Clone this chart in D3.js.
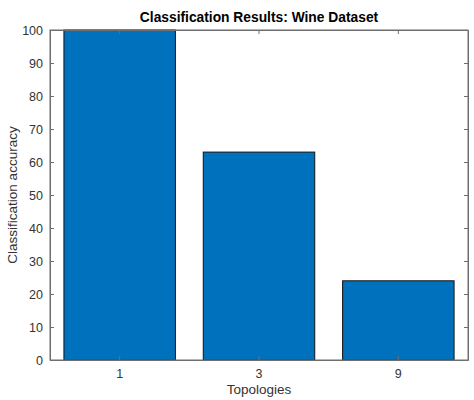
<!DOCTYPE html>
<html><head><meta charset="utf-8">
<script src="https://cdn.jsdelivr.net/npm/d3@7"></script>
<style>body{margin:0;background:#fff}svg{display:block}text{font-family:"Liberation Sans",Arial,sans-serif}</style>
</head><body>
<svg id="c" width="474" height="400"></svg>
<script>
const categories = ["1", "3", "9"];
const accuracy = [100, 63, 24];
const yTicks = [0, 10, 20, 30, 40, 50, 60, 70, 80, 90, 100];

const svg = d3.select("#c");
const m = {l: 50, r: 6, t: 30, b: 40};
const W = 474, H = 400;
const x = d3.scaleBand().domain(categories).range([m.l, W - m.r]).paddingInner(0.2).paddingOuter(0.1);
const y = d3.scaleLinear().domain([0, 100]).range([H - m.b, m.t]);
const axisCol = "#6e6e6e", textCol = "#333";

// bars
svg.append("g").selectAll("rect").data(categories).join("rect")
  .attr("x", d => x(d)).attr("width", x.bandwidth())
  .attr("y", (d, i) => y(accuracy[i])).attr("height", (d, i) => y(0) - y(accuracy[i]))
  .attr("fill", "#0072BD").attr("stroke", "#111").attr("stroke-width", 1);

// axes
const tickLen = 4;
const yAxis = svg.append("g").attr("transform", `translate(${m.l},0)`)
  .call(d3.axisLeft(y).tickValues(yTicks).tickSizeInner(-tickLen).tickSizeOuter(0).tickPadding(7));
const yAxisR = svg.append("g").attr("transform", `translate(${W - m.r},0)`)
  .call(d3.axisRight(y).tickValues(yTicks).tickSizeInner(-tickLen).tickSizeOuter(0).tickFormat(""));
const xAxis = svg.append("g").attr("transform", `translate(0,${H - m.b})`)
  .call(d3.axisBottom(x).tickSizeInner(-tickLen).tickSizeOuter(0).tickPadding(9));
const xAxisT = svg.append("g").attr("transform", `translate(0,${m.t})`)
  .call(d3.axisTop(x).tickSizeInner(-tickLen).tickSizeOuter(0).tickFormat(""));
[yAxis, yAxisR, xAxis, xAxisT].forEach(g => {
  g.selectAll("path,line").attr("stroke", axisCol);
  g.selectAll("text").attr("fill", textCol).style("font-size", "12.5px").style("font-family", '"Liberation Sans",Arial,sans-serif');
});
// box
svg.append("rect").attr("x", m.l).attr("y", m.t).attr("width", W - m.r - m.l).attr("height", H - m.b - m.t)
  .attr("fill", "none").attr("stroke", axisCol);

// labels
svg.append("text").attr("x", (m.l + W - m.r) / 2).attr("y", 22).attr("text-anchor", "middle")
  .style("font-size", "13.8px").style("font-weight", "bold").attr("fill", "#000").text("Classification Results: Wine Dataset");
svg.append("text").attr("x", (m.l + W - m.r) / 2).attr("y", 394).attr("text-anchor", "middle")
  .style("font-size", "13.5px").attr("fill", textCol).text("Topologies");
svg.append("text").attr("transform", `translate(17,${(m.t + H - m.b) / 2}) rotate(-90)`).attr("text-anchor", "middle")
  .style("font-size", "13.5px").attr("fill", textCol).text("Classification accuracy");
</script>
</body></html>
